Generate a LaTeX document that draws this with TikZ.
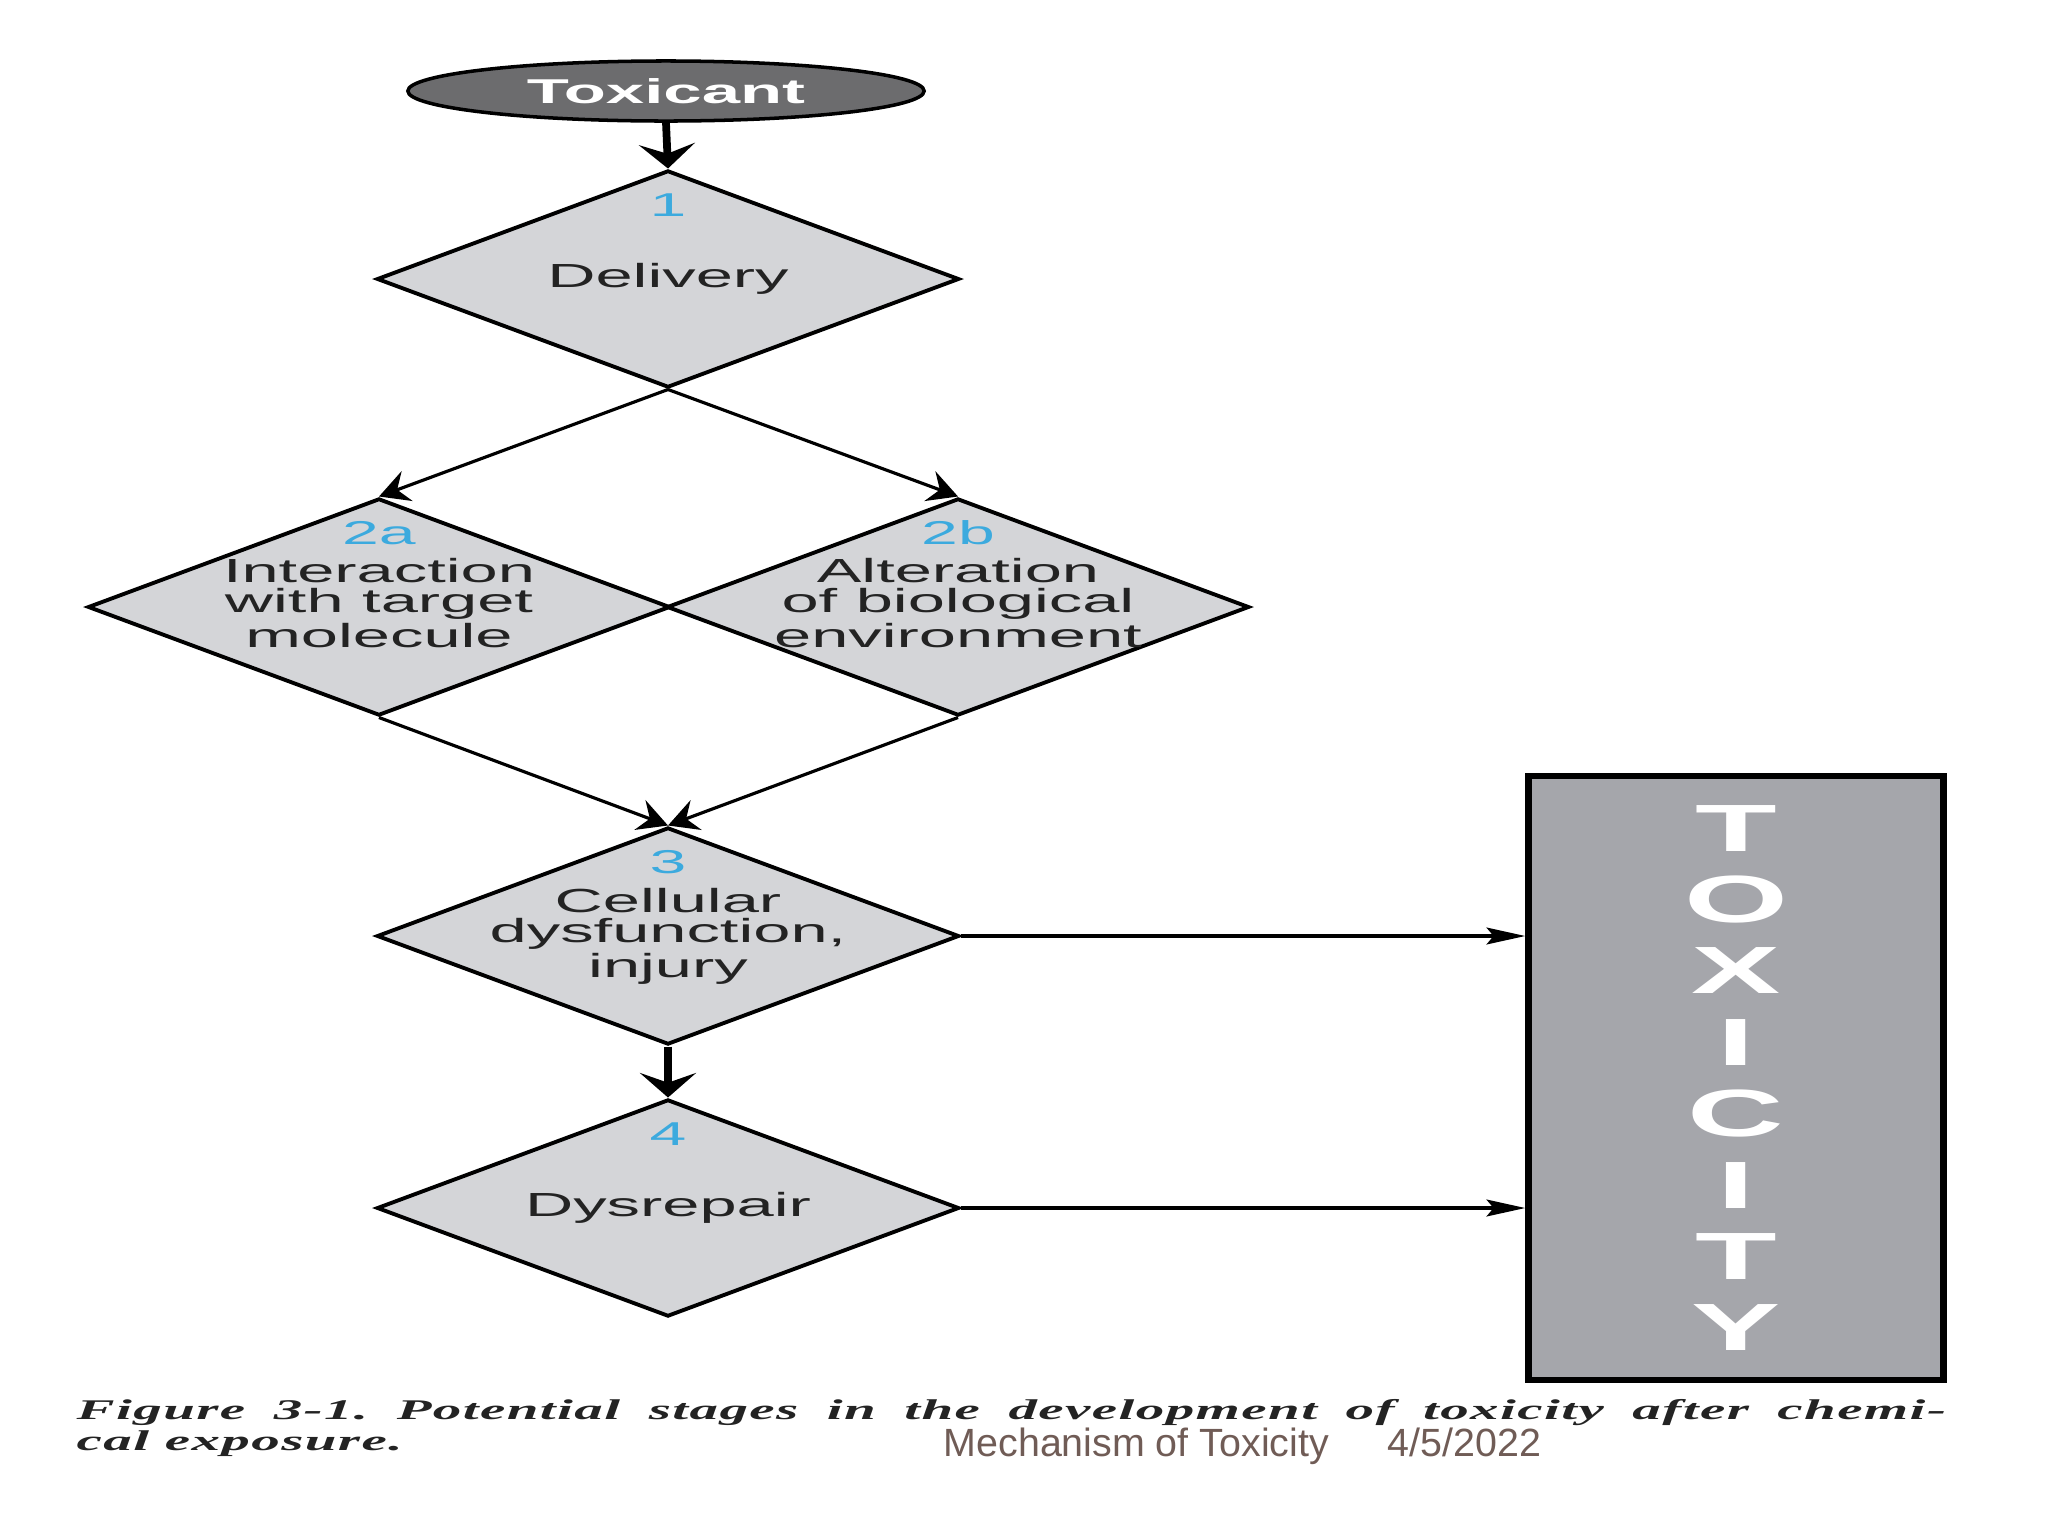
\documentclass[tikz,border=0pt]{standalone}
\usepackage{fontspec}
\usetikzlibrary{shapes.geometric,arrows.meta}
\setmainfont{Liberation Sans}
\newfontfamily\flowfont[FakeStretch=2]{Liberation Sans}
\newfontfamily\capfont[FakeStretch=2.0,LetterSpace=5]{Liberation Serif}
\definecolor{toxgray}{RGB}{108,108,110}
\definecolor{stagegray}{RGB}{212,213,216}
\definecolor{boxgray}{RGB}{165,166,171}
\definecolor{numblue}{RGB}{60,170,222}
\definecolor{inkgray}{RGB}{35,35,35}
\definecolor{footbrown}{RGB}{112,92,86}
\begin{document}
\begin{tikzpicture}[x=0.01cm,y=-0.01cm,
  stage/.style={diamond,draw=black,line width=1.1pt,fill=stagegray,minimum width=5.82cm,minimum height=2.17cm,inner sep=0pt},
  stagetext/.style={align=center,text=inkgray,inner sep=0pt,font=\flowfont\fontsize{9.5}{8.6}\selectfont},
  stagenum/.style={text=numblue,inner sep=0pt,font=\flowfont\fontsize{9.4}{10}\selectfont},
  bigarrow/.style={line width=2.2pt,-{Stealth[length=7pt,width=16pt,inset=2.8pt]}},
  thinarrow/.style={line width=0.9pt,-{Stealth[length=8.5pt,width=9pt,inset=3pt]}},
  outarrow/.style={line width=0.9pt,-{Stealth[length=11pt,width=4.8pt,inset=2pt]}}]
\useasboundingbox (0,0) rectangle (2048,1536);
\node[ellipse,draw=black,line width=1pt,fill=toxgray,minimum width=5.16cm,minimum height=0.6cm,inner sep=0pt,
  text=white,font=\flowfont\bfseries\fontsize{9.8}{10}\selectfont] (toxicant) at (666,91) {Toxicant};
% stages
\node[stage] (d1) at (668,279) {};
\node[stage] (d2a) at (379,607) {};
\node[stage] (d2b) at (958,607) {};
\node[stage] (d3) at (668,936) {};
\node[stage] (d4) at (668,1208) {};
\node[stagetext] (d1txt) at (d1) {Delivery};
\node[stagetext] (d2atxt) at ([yshift=0.04cm]d2a.center) {Interaction\\with target\\molecule};
\node[stagetext] (d2btxt) at ([yshift=0.04cm]d2b.center) {Alteration\\of biological\\environment};
\node[stagetext] (d3txt) at (d3) {Cellular\\dysfunction,\\injury};
\node[stagetext] (d4txt) at (d4) {Dysrepair};
\node[stagenum] (n1) at ([yshift=0.74cm]d1.center) {1};
\node[stagenum] (n2a) at ([yshift=0.74cm]d2a.center) {2a};
\node[stagenum] (n2b) at ([yshift=0.74cm]d2b.center) {2b};
\node[stagenum] (n3) at ([yshift=0.74cm]d3.center) {3};
\node[stagenum] (n4) at ([yshift=0.74cm]d4.center) {4};
\node[draw=black,line width=1.8pt,fill=boxgray,minimum width=4.15cm,minimum height=6.04cm,inner sep=0pt,
  align=center,text=white,font=\flowfont\bfseries\fontsize{19}{20.3}\selectfont] (toxicity) at (1736,1078)
  {T\\O\\X\\I\\C\\I\\T\\Y};
% connectors
\draw[bigarrow] (toxicant.south) -- (d1.north);
\draw[thinarrow] (d1.south) -- (d2a.north);
\draw[thinarrow] (d1.south) -- (d2b.north);
\draw[thinarrow] (d2a.south) -- (d3.north);
\draw[thinarrow] (d2b.south) -- (d3.north);
\draw[bigarrow] (d3.south) -- (d4.north);
\draw[outarrow] (d3.east) -- (toxicity.west |- d3.east);
\draw[outarrow] (d4.east) -- (toxicity.west |- d4.east);
% caption and footer
\node[anchor=north west,inner sep=0pt,text width=18.68cm,align=justify,text=inkgray,
  font=\capfont\bfseries\itshape\fontsize{8.1}{8.8}\selectfont\frenchspacing] (caption) at (76,1399)
  {Figure 3-1. Potential stages in the development of toxicity after chemi-\linebreak cal exposure.};
\node[anchor=base west,inner sep=0pt,text=footbrown,font=\fontsize{11.2}{12}\selectfont] (footer) at (943,1456)
  {Mechanism of Toxicity\hspace{16.8pt}4/5/2022};
\end{tikzpicture}
\end{document}
